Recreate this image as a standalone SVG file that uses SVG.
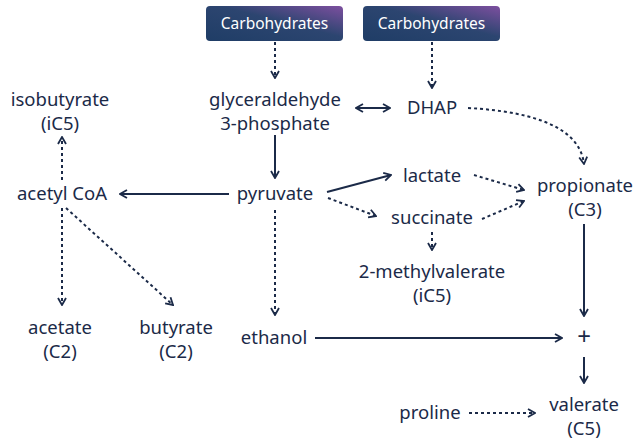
<svg xmlns="http://www.w3.org/2000/svg" width="640" height="448" viewBox="0 0 640 448">
<defs>
<linearGradient id="g" x1="0" y1="1" x2="1" y2="0">
<stop offset="0" stop-color="#1f3d66"/>
<stop offset="0.55" stop-color="#2c4570"/>
<stop offset="1" stop-color="#7d4f9f"/>
</linearGradient>
<marker id="a" viewBox="0 0 10 10" refX="9" refY="5" markerWidth="10" markerHeight="10" markerUnits="userSpaceOnUse" orient="auto-start-reverse">
<path d="M2,1 L9,5 L2,9" fill="none" stroke="#1b2a48" stroke-width="1.8"/>
</marker>
</defs>
<style>
text{font-family:"Noto Sans","Open Sans",sans-serif;font-size:18.5px;fill:#1b2a48;text-anchor:middle}
.b{fill:url(#g)}
.bt{fill:#ffffff;font-size:15.5px}
.s{stroke:#1b2a48;stroke-width:2;fill:none}
.d{stroke:#1b2a48;stroke-width:2;fill:none;stroke-dasharray:3 3}
</style>
<rect width="640" height="448" fill="#ffffff"/>
<g id="carb1"><rect class="b" x="206" y="6" width="137" height="35" rx="4"/><text class="bt" x="274.5" y="29">Carbohydrates</text></g>
<g id="carb2"><rect class="b" x="363" y="6" width="137" height="35" rx="4"/><text class="bt" x="431.5" y="29">Carbohydrates</text></g>
<g id="g3p"><text x="275" y="106">glyceraldehyde</text><text x="275" y="130">3-phosphate</text></g>
<g id="dhap"><text x="432" y="114">DHAP</text></g>
<g id="isobutyrate"><text x="60" y="106">isobutyrate</text><text x="60" y="130">(iC5)</text></g>
<g id="acetylcoa"><text x="62" y="200">acetyl CoA</text></g>
<g id="pyruvate"><text x="275" y="200">pyruvate</text></g>
<g id="lactate"><text x="432" y="182">lactate</text></g>
<g id="succinate"><text x="432" y="224">succinate</text></g>
<g id="methylvalerate"><text x="432" y="278">2-methylvalerate</text><text x="432" y="302">(iC5)</text></g>
<g id="propionate"><text x="585" y="192">propionate</text><text x="585" y="216">(C3)</text></g>
<g id="acetate"><text x="60" y="334">acetate</text><text x="60" y="358">(C2)</text></g>
<g id="butyrate"><text x="176" y="334">butyrate</text><text x="176" y="358">(C2)</text></g>
<g id="ethanol"><text x="274" y="344">ethanol</text></g>
<g id="plus"><text x="584" y="345" style="font-size:24px">+</text></g>
<g id="valerate"><text x="584" y="411">valerate</text><text x="584" y="435">(C5)</text></g>
<g id="proline"><text x="430" y="419">proline</text></g>
<g id="connectors">
<path class="d" d="M275,42 V78" marker-end="url(#a)"/>
<path class="d" d="M432,42 V88" marker-end="url(#a)"/>
<path class="s" d="M356,108 H390" marker-start="url(#a)" marker-end="url(#a)"/>
<path class="d" d="M468,108 C540,112 580,130 584,164" marker-end="url(#a)"/>
<path class="s" d="M275,135 V178" marker-end="url(#a)"/>
<path class="s" d="M229,194 H120" marker-end="url(#a)"/>
<path class="d" d="M62,180 V137" marker-end="url(#a)"/>
<path class="d" d="M62,208 V305" marker-end="url(#a)"/>
<path class="d" d="M66,208 L173,305" marker-end="url(#a)"/>
<path class="s" d="M327,192 L391,175" marker-end="url(#a)"/>
<path class="d" d="M328,198 L376,216" marker-end="url(#a)"/>
<path class="d" d="M474,175 L524,190" marker-end="url(#a)"/>
<path class="d" d="M482,219 L524,201" marker-end="url(#a)"/>
<path class="d" d="M432,232 V250" marker-end="url(#a)"/>
<path class="d" d="M275,210 V315" marker-end="url(#a)"/>
<path class="s" d="M315,338 H562" marker-end="url(#a)"/>
<path class="s" d="M584,224 V316" marker-end="url(#a)"/>
<path class="s" d="M584,357 V383" marker-end="url(#a)"/>
<path class="d" d="M469,413 H535" marker-end="url(#a)"/>
</g>
</svg>
